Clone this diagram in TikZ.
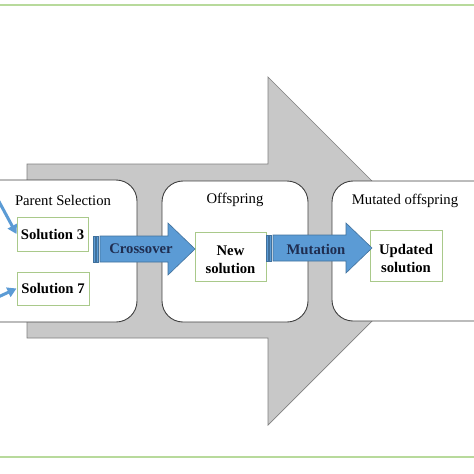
\documentclass[tikz,border=0pt]{standalone}
\usepackage{fontspec}
\setmainfont{Liberation Serif}
\usetikzlibrary{arrows.meta}
\definecolor{grayfill}{HTML}{C8C8C8}
\definecolor{grayline}{HTML}{7F7F7F}
\definecolor{bluefill}{HTML}{5B9BD5}
\definecolor{blueline}{HTML}{41719C}
\definecolor{greenbox}{HTML}{A9C98A}
\definecolor{greenrule}{HTML}{B8DA9C}
\definecolor{navy}{HTML}{1F2D50}
\tikzset{
  stage/.style={draw=black!75, line width=0.9pt, fill=white, rounded corners=21pt},
  title/.style={font=\fontsize{14.7}{16}\selectfont, inner sep=0pt},
  solbox/.style={draw=greenbox, line width=1pt, fill=white, font=\fontsize{14.7}{18}\selectfont\bfseries, align=center, inner sep=0pt},
  blockarrow/.style={fill=bluefill, draw=blueline, line width=0.6pt},
  arrowlabel/.style={font=\fontsize{14.7}{16}\selectfont\bfseries, text=navy, inner sep=0pt},
  feed/.style={draw=bluefill, line width=3pt, -{Triangle[length=9pt,width=10pt]}}
}
\begin{document}
\begin{tikzpicture}[x=1pt,y=-1pt]
\useasboundingbox (0,0) rectangle (474,474);
\clip (0,0) rectangle (474,474);
% green rules
\draw[greenrule, line width=1.5pt] (0,5) -- (474,5);
\draw[greenrule, line width=1.5pt] (0,457) -- (474,457);
% big gray arrow
\draw[fill=grayfill, draw=grayline, line width=0.7pt]
  (27,164) -- (268,164) -- (268,77) -- (442,251) -- (268,425) -- (268,338) -- (27,338) -- cycle;
% stage boxes
\draw[stage] (-25,180) rectangle (137,322);
\draw[stage] (162,181) rectangle (308,322);
\draw[stage] (332,181) rectangle (500,321);
\node[title] (tparent) at (63,200) {Parent Selection};
\node[title] (toff) at (235,200) {Offspring};
\node[title] (tmut) at (405,201) {Mutated offspring};
% solution boxes
\node[solbox, minimum width=71pt, minimum height=34pt] (s3) at (52.5,234) {Solution 3};
\node[solbox, minimum width=72pt, minimum height=33pt] (s7) at (53,288.5) {Solution 7};
\node[solbox, minimum width=71pt, minimum height=49pt] (news) at (230.5,256.5) {\rule{0pt}{20pt}New\\solution\rule[-4pt]{0pt}{4pt}};
\node[solbox, minimum width=72pt, minimum height=51pt] (upd) at (406,255.5) {\rule{0pt}{20pt}Updated\\solution\rule[-4pt]{0pt}{4pt}};
% feed arrows
\coordinate (f1) at (-4,196);
\coordinate (f2) at (-4,298);
\draw[feed] (f1) -- (s3.west);
\draw[feed] (f2) -- (s7.west);
% crossover arrow
\draw[blockarrow] (93,236) rectangle (95,262);
\draw[blockarrow] (96.5,236) rectangle (98.5,262);
\draw[blockarrow] (100,236) -- (168,236) -- (168,223) -- (195,249) -- (168,275) -- (168,262) -- (100,262) -- cycle;
\node[arrowlabel] (lcross) at (141,249) {Crossover};
% mutation arrow
\draw[blockarrow] (266,235) rectangle (268,261);
\draw[blockarrow] (269.5,235) rectangle (271.5,261);
\draw[blockarrow] (273,235) -- (346,235) -- (346,223) -- (372,248) -- (346,273) -- (346,261) -- (273,261) -- cycle;
\node[arrowlabel] (lmut) at (316,249) {Mutation};
\end{tikzpicture}
\end{document}
